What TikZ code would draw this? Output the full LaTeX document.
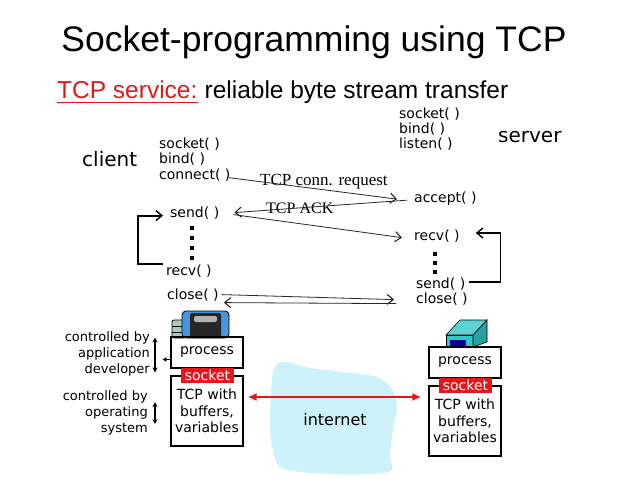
\documentclass[tikz,border=0pt]{standalone}
\usepackage{fontspec}
\setmainfont{Liberation Sans}
\newfontfamily\comic{DejaVu Sans}
\newfontfamily\tnr{Liberation Serif}
\usetikzlibrary{positioning}
\usetikzlibrary{arrows.meta}
\definecolor{sockred}{RGB}{228,24,28}
\definecolor{cloudblue}{RGB}{205,242,250}
\definecolor{boxcyan}{RGB}{50,200,200}

\begin{document}
\begin{tikzpicture}[x=1pt,y=-1pt,>={Straight Barb[length=6pt,width=10pt,line width=1.1pt]},
	fn/.style={font=\comic\fontsize{14}{16}\selectfont, inner sep=0pt, anchor=base west},
	msg/.style={font=\tnr\fontsize{17}{19}\selectfont, inner sep=0pt, anchor=base west},
	lbl/.style={font=\comic\fontsize{13}{16}\selectfont, inner sep=0pt, align=right, anchor=east},
	box/.style={draw, line width=1.2pt, font=\comic\fontsize{14}{16.5}\selectfont, minimum width=72pt, inner sep=0pt, align=center},
	sock/.style={fill=sockred, text=white, font=\comic\fontsize{14}{16}\selectfont, minimum width=53pt, minimum height=15pt, inner sep=0pt},
	msgline/.style={->, line width=0.8pt, black!85},
	loopline/.style={-{Straight Barb[length=6pt,width=10pt,line width=1.4pt]}, line width=1.8pt}]
	\useasboundingbox (0,0) rectangle (638,479);

	\node (t1) [font=\fontsize{35.5}{40}\selectfont, inner sep=0pt, anchor=base] at (314,52) {Socket-programming using TCP};
	\node (t2) [font=\fontsize{24.5}{28}\selectfont, inner sep=0pt, anchor=base west, text=sockred] at (57,98) {TCP service:};
	\node (t3) [font=\fontsize{24.5}{28}\selectfont, inner sep=0pt, right=6.8pt of t2.base east, anchor=base west] {reliable byte stream transfer};
	\draw [sockred, line width=1pt] ([yshift=-4pt]t2.base west) -- ([yshift=-4pt]t2.base east);

	\node (cl) [fn, font=\comic\fontsize{20}{22}\selectfont] at (82,166) {client};
	\node (c1) [fn] at (159,148) {socket( )};
	\node (c2) [fn, below=15.5pt of c1.base west, anchor=base west] {bind( )};
	\node (c3) [fn, below=15.5pt of c2.base west, anchor=base west] {connect( )};
	\node (c4) [fn] at (170,217) {send( )};
	\node (c5) [fn] at (166,275) {recv( )};
	\node (c6) [fn] at (167,299) {close( )};

	\node (sv) [fn, font=\comic\fontsize{20}{22}\selectfont] at (498,142) {server};
	\node (s1) [fn] at (399,118) {socket( )};
	\node (s2) [fn, below=15pt of s1.base west, anchor=base west] {bind( )};
	\node (s3) [fn, below=15pt of s2.base west, anchor=base west] {listen( )};
	\node (s4) [fn] at (414,202) {accept( )};
	\node (s5) [fn] at (414,240) {recv( )};
	\node (s6) [fn] at (416,288) {send( )};
	\node (s7) [fn] at (416,303) {close( )};

	\node (m1) [msg] at (260,185) {TCP conn. request};
	\node (m2) [msg, font=\tnr\fontsize{16}{18}\selectfont] at (266,213) {TCP ACK};

	\draw [msgline] ([xshift=-2pt,yshift=-3pt]c3.east) -- ([xshift=-17pt,yshift=-1pt]s4.west);
	\draw [msgline] ([xshift=-7pt,yshift=-2pt]s4.west) -- ([xshift=15pt]c4.east);
	\draw [msgline] ([xshift=14pt,yshift=-2pt]c4.east) -- ([xshift=-12pt,yshift=-2pt]s5.west);
	\draw [msgline] ([xshift=3pt]c6.east) -- ([xshift=-22pt,yshift=-1pt]s7.west);
	\draw [msgline] ([xshift=-20pt,yshift=-5pt]s7.west) -- ([xshift=5pt,yshift=-8pt]c6.east);

	\draw [loopline] ([xshift=-3pt,yshift=7pt]c5.west) -- ++(-25,0) |- ([xshift=-7pt,yshift=-3pt]c4.west);
	\draw [loopline] ([xshift=4pt,yshift=2pt]s6.east) -- ++(31,0) |- ([xshift=16pt,yshift=2.6pt]s5.east);

	\foreach \y in {226,236,246,256} \fill (190,\y) rectangle +(4,4);
	\foreach \y in {252,261,270} \fill (433,\y) rectangle +(4,4);

	\filldraw [fill={rgb,255:red,170;green,200;blue,190}, line width=0.8pt, rounded corners=2pt] (172,320) rectangle (185,338);
	\draw [line width=0.5pt] (172,326) -- (185,326) (172,332) -- (185,332);
	\filldraw [fill={rgb,255:red,70;green,150;blue,220}, line width=0.8pt, rounded corners=4pt] (182,311) rectangle (229,338);
	\fill [black!85, rounded corners=2pt] (190,313) rectangle (221,338);
	\fill [gray!60, rounded corners=2pt] (194,316) rectangle (217,322);

	\filldraw [fill=boxcyan, line width=0.6pt] (446,335) -- (473,335) -- (473,347) -- (446,347) -- cycle;
	\filldraw [fill=boxcyan!80!white, line width=0.6pt] (446,335) -- (460,320) -- (487,320) -- (473,335) -- cycle;
	\filldraw [fill=boxcyan!80!black, line width=0.6pt] (473,335) -- (487,320) -- (487,342) -- (473,347) -- cycle;
	\fill [blue!60!black] (450,340) rectangle (466,347);

	\fill [cloudblue] plot [smooth cycle] coordinates {(273,373) (283,362) (310,368) (343,372) (377,377) (393,390) (397,407) (393,430) (390,455) (388,472) (330,474) (282,468) (272,445) (270,420)};
	\node (in) [font=\comic\fontsize{16}{18}\selectfont, inner sep=0pt, anchor=base] at (335,425) {internet};

	\node (p1) [box, minimum height=31pt] at (207,352.5) {process};
	\node (b1) [box, minimum height=70pt] at (207,411) {TCP with\\buffers,\\variables};
	\node (k1) [sock] at (207.5,375.5) {socket};
	\node (p2) [box, minimum height=31pt] at (465,362.5) {process};
	\node (b2) [box, minimum height=70pt] at (465,421) {TCP with\\buffers,\\variables};
	\node (k2) [sock] at (465.5,385) {socket};

	\node (l1) [lbl] at (150,354) {controlled by\\application\\developer};
	\node (l2) [lbl] at (148,413) {controlled by\\operating\\system};
	\draw [{Stealth[length=5pt,width=5pt]}-{Stealth[length=5pt,width=5pt]}, line width=1.2pt] ([xshift=5pt,yshift=-6pt]l1.north east) -- ([xshift=5pt,yshift=4pt]l1.south east);
	\draw [{Stealth[length=5pt,width=5pt]}-{Stealth[length=5pt,width=5pt]}, line width=1.2pt] ([xshift=7pt,yshift=-11.5pt]l2.north east) -- ([xshift=7pt,yshift=11.5pt]l2.south east);
	\draw [-{Latex[length=4pt,width=5pt]}, line width=1pt] ([yshift=-7pt]p1.west) -- ++(-8,0);

	\draw [{Latex[length=9pt,width=8pt]}-{Latex[length=9pt,width=8pt]}, sockred, line width=2pt] ([xshift=4pt,yshift=14pt]b1.east) -- ([xshift=-7pt,yshift=24pt]b2.west);
\end{tikzpicture}
\end{document}
